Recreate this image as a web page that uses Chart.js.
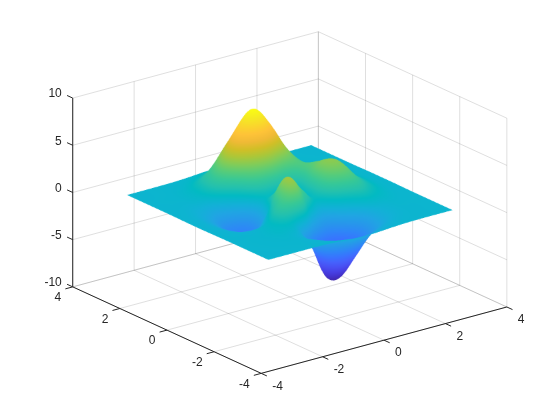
<!DOCTYPE html>
<html>
<head>
<meta charset="utf-8">
<style>
  html, body { margin: 0; padding: 0; background: #fff; }
  canvas { display: block; }
</style>
<script src="https://cdn.jsdelivr.net/npm/chart.js@4"></script>
</head>
<body>
<canvas id="myChart" width="560" height="420"></canvas>
<script>
// surface heights, one row per y value, columns follow xValues
const xValues = [-3, -2.5, -2, -1.5, -1, -0.5, 0, 0.5, 1, 1.5, 2, 2.5, 3];
const yValues = [-3, -2.5, -2, -1.5, -1, -0.5, 0, 0.5, 1, 1.5, 2, 2.5, 3];
const rowA = [0, 0, 0, 0, -0.03, -0.14, -0.24, -0.22, -0.11, -0.03, 0, 0, 0];
const rowB = [0, 0, 0.01, 0, -0.23, -0.91, -1.57, -1.41, -0.69, -0.18, -0.03, 0, 0];
const rowC = [0, 0.01, 0.05, 0.05, -0.59, -2.64, -4.76, -4.35, -2.1, -0.53, -0.06, 0, 0];
const rowD = [0, 0.01, 0.08, 0.33, 0.15, -2.19, -6, -6.1, -2.64, -0.44, 0.04, 0.03, 0];
const rowE = [-0.01, -0.06, -0.13, 0.3, 1.86, 2.5, -0.72, -2.22, -0.27, 0.88, 0.5, 0.11, 0.01];
const rowF = [-0.03, -0.2, -0.8, -1.21, 0.8, 3.7, 2, 0.39, 2.2, 2.56, 1.12, 0.24, 0.03];
const rowG = [-0.04, -0.3, -1.33, -2.77, -1.65, 1.48, 0.98, 0.37, 2.94, 3.27, 1.41, 0.3, 0.03];
const rowH = [-0.03, -0.25, -1.12, -2.49, -2, 0.39, 0.46, 0.38, 2.38, 2.56, 1.09, 0.23, 0.03];
const rowI = [-0.01, -0.11, -0.48, -0.86, 0.23, 2.79, 3.69, 2.94, 2.43, 1.58, 0.58, 0.11, 0.01];
const rowJ = [0, -0.02, -0.01, 0.48, 2.61, 6.2, 8.1, 6.25, 3.26, 1.19, 0.29, 0.05, 0];
const rowK = [0, 0.01, 0.08, 0.55, 2.1, 4.56, 5.86, 4.57, 2.21, 0.68, 0.13, 0.02, 0];
const rowL = [0, 0, 0.03, 0.19, 0.69, 1.47, 1.89, 1.47, 0.7, 0.21, 0.04, 0, 0];
const rowM = [0, 0, 0.01, 0.03, 0.11, 0.23, 0.3, 0.23, 0.11, 0.03, 0.01, 0, 0];
const rows = [rowA, rowB, rowC, rowD, rowE, rowF, rowG, rowH, rowI, rowJ, rowK, rowL, rowM];

const xTicks = [-4, -2, 0, 2, 4];
const yTicks = [-4, -2, 0, 2, 4];
const zTicks = [-10, -5, 0, 5, 10];

const colorMin = -6.55;
const colorMax = 8.1;
const parula = [
  [62, 38, 168], [67, 50, 203], [71, 65, 229], [72, 82, 244], [69, 99, 253],
  [56, 117, 254], [46, 135, 247], [39, 151, 235], [32, 165, 227], [18, 177, 214],
  [2, 186, 195], [36, 193, 174], [55, 200, 151], [87, 204, 122], [129, 204, 89],
  [171, 199, 57], [209, 191, 39], [240, 186, 54], [254, 195, 56], [250, 214, 45],
  [245, 233, 36], [249, 251, 21]
];

// view(-37.5, 30) on the unit box
const sinAz = -0.6088, cosAz = 0.7934, sinEl = 0.5, cosEl = 0.866;
function toH(x, y) {
  return (x / 4) * cosAz + (y / 4) * sinAz;
}
function toV(x, y, z) {
  return -sinEl * sinAz * (x / 4) + sinEl * cosAz * (y / 4) + cosEl * (z / 10);
}
function depth(x, y, z) {
  return (x / 4) * cosEl * sinAz - (y / 4) * cosEl * cosAz + (z / 10) * sinEl;
}
function point(x, y, z) {
  return { x: toH(x, y), y: toV(x, y, z) };
}

function lineSet(from, to, color) {
  return {
    type: "scatter",
    showLine: true,
    data: [point(...from), point(...to)],
    borderColor: color,
    borderWidth: 1,
    pointRadius: 0,
    tension: 0,
    fill: false,
  };
}

const GRID = "rgba(38,38,38,0.15)";
const AXIS = "#262626";
const TEXT = "#262626";
const TICK = 0.24;
const datasets = [];

for (const x of xTicks) {
  datasets.push(lineSet([x, -4, -10], [x, 4, -10], GRID));
  datasets.push(lineSet([x, 4, -10], [x, 4, 10], GRID));
}
for (const y of yTicks) {
  datasets.push(lineSet([-4, y, -10], [4, y, -10], GRID));
  datasets.push(lineSet([4, y, -10], [4, y, 10], GRID));
}
for (const z of zTicks) {
  datasets.push(lineSet([-4, 4, z], [4, 4, z], GRID));
  datasets.push(lineSet([4, -4, z], [4, 4, z], GRID));
}
datasets.push(lineSet([-4, 4, -10], [-4, 4, 10], AXIS));
datasets.push(lineSet([-4, 4, -10], [-4, -4, -10], AXIS));
datasets.push(lineSet([-4, -4, -10], [4, -4, -10], AXIS));
for (const x of xTicks) datasets.push(lineSet([x, -4, -10], [x, -4 - TICK, -10], AXIS));
for (const y of yTicks) datasets.push(lineSet([-4, y, -10], [-4 - TICK, y, -10], AXIS));
for (const z of zTicks) datasets.push(lineSet([-4, 4, z], [-4, 4 + TICK, z], AXIS));

function catmull(p0, p1, p2, p3, t) {
  return 0.5 * (2 * p1 + (p2 - p0) * t + (2 * p0 - 5 * p1 + 4 * p2 - p3) * t * t + (3 * p1 - p0 - 3 * p2 + p3) * t * t * t);
}
function pick(list, i) {
  return list[Math.max(0, Math.min(list.length - 1, i))];
}
function surfaceAt(i, j, u, w) {
  const across = [];
  for (let r = -1; r <= 2; r++) {
    const row = pick(rows, j + r);
    across.push(catmull(pick(row, i - 1), pick(row, i), pick(row, i + 1), pick(row, i + 2), u));
  }
  return catmull(across[0], across[1], across[2], across[3], w);
}
function colorFor(z) {
  const t = Math.max(0, Math.min(1, (z - colorMin) / (colorMax - colorMin))) * (parula.length - 1);
  const i = Math.min(parula.length - 2, Math.floor(t));
  const f = t - i;
  return parula[i].map((v, n) => v + (parula[i + 1][n] - v) * f);
}

// fill one triangle into the buffers, nearest surface wins per pixel
function fillTriangle(pixels, zBuffer, W, H, a, b, c) {
  const area = (b.px - a.px) * (c.py - a.py) - (b.py - a.py) * (c.px - a.px);
  if (area === 0) return;
  const x0 = Math.max(0, Math.floor(Math.min(a.px, b.px, c.px)));
  const x1 = Math.min(W - 1, Math.ceil(Math.max(a.px, b.px, c.px)));
  const y0 = Math.max(0, Math.floor(Math.min(a.py, b.py, c.py)));
  const y1 = Math.min(H - 1, Math.ceil(Math.max(a.py, b.py, c.py)));
  for (let py = y0; py <= y1; py++) {
    for (let px = x0; px <= x1; px++) {
      const cx = px + 0.5;
      const cy = py + 0.5;
      const wa = ((b.px - cx) * (c.py - cy) - (b.py - cy) * (c.px - cx)) / area;
      const wb = ((c.px - cx) * (a.py - cy) - (c.py - cy) * (a.px - cx)) / area;
      const wc = 1 - wa - wb;
      if (wa < -0.001 || wb < -0.001 || wc < -0.001) continue;
      const d = wa * a.d + wb * b.d + wc * c.d;
      const slot = py * W + px;
      if (d <= zBuffer[slot]) continue;
      zBuffer[slot] = d;
      const color = colorFor(wa * a.z + wb * b.z + wc * c.z);
      pixels[slot * 4] = color[0];
      pixels[slot * 4 + 1] = color[1];
      pixels[slot * 4 + 2] = color[2];
      pixels[slot * 4 + 3] = 255;
    }
  }
}

// shaded surface, placed through the chart scales at 3x and scaled down
const surfacePlugin = {
  id: "surface",
  afterDatasetsDraw(chart) {
    const ctx = chart.ctx;
    const sx = chart.scales.x;
    const sy = chart.scales.y;
    const SCALE = 3;
    const STEPS = 8;
    const W = chart.width * SCALE;
    const H = chart.height * SCALE;
    const n = (xValues.length - 1) * STEPS;
    const m = (yValues.length - 1) * STEPS;
    const nodes = [];
    for (let b = 0; b <= m; b++) {
      const line = [];
      const j = Math.min(rows.length - 2, Math.floor(b / STEPS));
      const w = b / STEPS - j;
      const y = yValues[j] + (yValues[j + 1] - yValues[j]) * w;
      for (let a = 0; a <= n; a++) {
        const i = Math.min(xValues.length - 2, Math.floor(a / STEPS));
        const u = a / STEPS - i;
        const x = xValues[i] + (xValues[i + 1] - xValues[i]) * u;
        const z = surfaceAt(i, j, u, w);
        line.push({
          px: sx.getPixelForValue(toH(x, y)) * SCALE,
          py: sy.getPixelForValue(toV(x, y, z)) * SCALE,
          z: z,
          d: depth(x, y, z),
        });
      }
      nodes.push(line);
    }
    const buffer = document.createElement("canvas");
    buffer.width = W;
    buffer.height = H;
    const bufferCtx = buffer.getContext("2d");
    const image = bufferCtx.createImageData(W, H);
    const zBuffer = new Float32Array(W * H).fill(-Infinity);
    for (let b = 0; b < m; b++) {
      for (let a = 0; a < n; a++) {
        fillTriangle(image.data, zBuffer, W, H, nodes[b][a], nodes[b][a + 1], nodes[b + 1][a + 1]);
        fillTriangle(image.data, zBuffer, W, H, nodes[b][a], nodes[b + 1][a + 1], nodes[b + 1][a]);
      }
    }
    bufferCtx.putImageData(image, 0, 0);
    ctx.save();
    ctx.imageSmoothingEnabled = true;
    ctx.imageSmoothingQuality = "high";
    ctx.drawImage(buffer, 0, 0, chart.width, chart.height);
    ctx.restore();
  },
  afterDraw(chart) {
    const ctx = chart.ctx;
    const sx = chart.scales.x;
    const sy = chart.scales.y;
    const label = (text, x, y, z, dx, dy, align) => {
      ctx.textAlign = align;
      ctx.fillText(text, sx.getPixelForValue(toH(x, y)) + dx, sy.getPixelForValue(toV(x, y, z)) + dy);
    };
    ctx.save();
    ctx.font = '12px "Liberation Sans"';
    ctx.fillStyle = TEXT;
    ctx.textBaseline = "middle";
    for (const z of zTicks) label(String(z), -4, 4, z, -11, -4, "right");
    for (const y of yTicks) label(String(y), -4, y, -10, -11.5, 11, "right");
    for (const x of xTicks) label(String(x), x, -4, -10, 11, 13, "left");
    ctx.restore();
  },
};

const config = {
  type: "scatter",
  data: { datasets: datasets },
  options: {
    responsive: false,
    animation: false,
    layout: { padding: 0 },
    plugins: { legend: { display: false }, tooltip: { enabled: false } },
    scales: {
      x: { type: "linear", display: false, min: -1.872, max: 1.7455 },
      y: { type: "linear", display: false, min: -1.995, max: 1.858 },
    },
  },
  plugins: [surfacePlugin],
};

const myChart = new Chart(document.getElementById("myChart"), config);
</script>
</body>
</html>
